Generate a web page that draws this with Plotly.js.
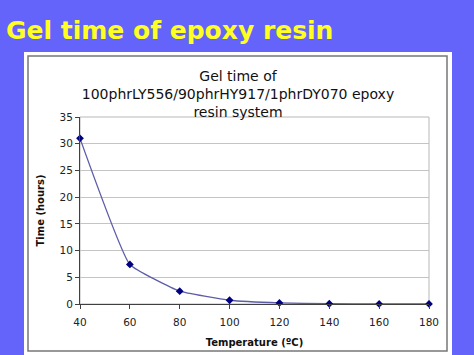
<!DOCTYPE html>
<html>
<head>
<meta charset="utf-8">
<script src="https://cdn.plot.ly/plotly-3.0.1.min.js"></script>
<style>html,body{margin:0;padding:0;}#chart{width:474px;height:355px;}</style>
</head>
<body>
<div id="chart"></div>
<script>
const temperatures = [40, 60, 80, 100, 120, 140, 160, 180];
const gelTimes = [31, 7.4, 2.4, 0.7, 0.2, 0.05, 0.02, 0.02];
const xTicks = [40, 60, 80, 100, 120, 140, 160, 180];
const yTicks = [0, 5, 10, 15, 20, 25, 30, 35];

const W = 474, H = 355;
const L = 80, R = 45, T = 117, B = 51;
const pw = W - L - R, ph = H - T - B;
const px = v => (v - L) / pw;
const py = v => (H - B - v) / ph;

const trace = {
  x: temperatures,
  y: gelTimes,
  type: 'scatter',
  mode: 'lines+markers',
  line: {shape: 'spline', smoothing: 0.35, color: '#5c5ca8', width: 1.3},
  marker: {symbol: 'diamond', size: 6, color: '#000080'},
  cliponaxis: false,
  hoverinfo: 'skip'
};

const tickFont = {family: 'DejaVu Sans, Verdana, sans-serif', size: 10.5, color: '#222'};

const layout = {
  width: W, height: H,
  margin: {l: L, r: R, t: T, b: B, pad: 0},
  paper_bgcolor: '#6464fa',
  plot_bgcolor: 'rgba(0,0,0,0)',
  showlegend: false,
  title: {
    text: 'Gel time of<br>100phrLY556/90phrHY917/1phrDY070 epoxy<br>resin system',
    font: {family: 'DejaVu Sans, Verdana, sans-serif', size: 14, color: '#111'},
    xref: 'container', x: 238 / W, xanchor: 'center',
    yref: 'container', y: 1 - 81 / H, yanchor: 'top'
  },
  xaxis: {
    range: [40, 180], tickvals: xTicks, ticktext: xTicks.map(String),
    showgrid: false, zeroline: false,
    showline: true, linecolor: '#404040', linewidth: 1,
    ticks: 'outside', ticklen: 4, tickcolor: '#404040',
    ticklabelstandoff: 4,
    tickfont: tickFont,
    title: {text: '<b>Temperature (ºC)</b>', font: {family: 'DejaVu Sans, Verdana, sans-serif', size: 10, color: '#111'}, standoff: 12}
  },
  yaxis: {
    range: [0, 35], tickvals: yTicks, ticktext: yTicks.map(String),
    showgrid: true, gridcolor: '#c4c4c4', gridwidth: 1, zeroline: false,
    showline: true, linecolor: '#404040', linewidth: 1,
    ticks: 'outside', ticklen: 4, tickcolor: '#404040',
    tickfont: tickFont,
    title: {text: '<b>Time (hours)</b>', font: {family: 'DejaVu Sans, Verdana, sans-serif', size: 10, color: '#111'}, standoff: 13}
  },
  shapes: [
    {type: 'rect', xref: 'paper', yref: 'paper', layer: 'below',
     x0: px(24), x1: px(452), y0: py(356), y1: py(52),
     fillcolor: '#ffffff', line: {width: 0}},
    {type: 'rect', xref: 'paper', yref: 'paper', layer: 'below',
     x0: px(28), x1: px(447), y0: py(351), y1: py(56),
     fillcolor: 'rgba(0,0,0,0)', line: {color: '#777777', width: 1.5}},
    {type: 'rect', xref: 'paper', yref: 'paper', layer: 'below',
     x0: 0, x1: 1, y0: 0, y1: 1,
     fillcolor: 'rgba(0,0,0,0)', line: {color: '#b8b8b8', width: 1}}
  ],
  annotations: [
    {text: '<b>Gel time of epoxy resin</b>', xref: 'paper', yref: 'paper',
     x: px(4), y: py(31), xanchor: 'left', yanchor: 'middle', showarrow: false,
     font: {family: 'DejaVu Sans, Verdana, sans-serif', size: 25, color: '#ffff22'}}
  ]
};

Plotly.newPlot('chart', [trace], layout, {displayModeBar: false, staticPlot: true});
</script>
</body>
</html>
